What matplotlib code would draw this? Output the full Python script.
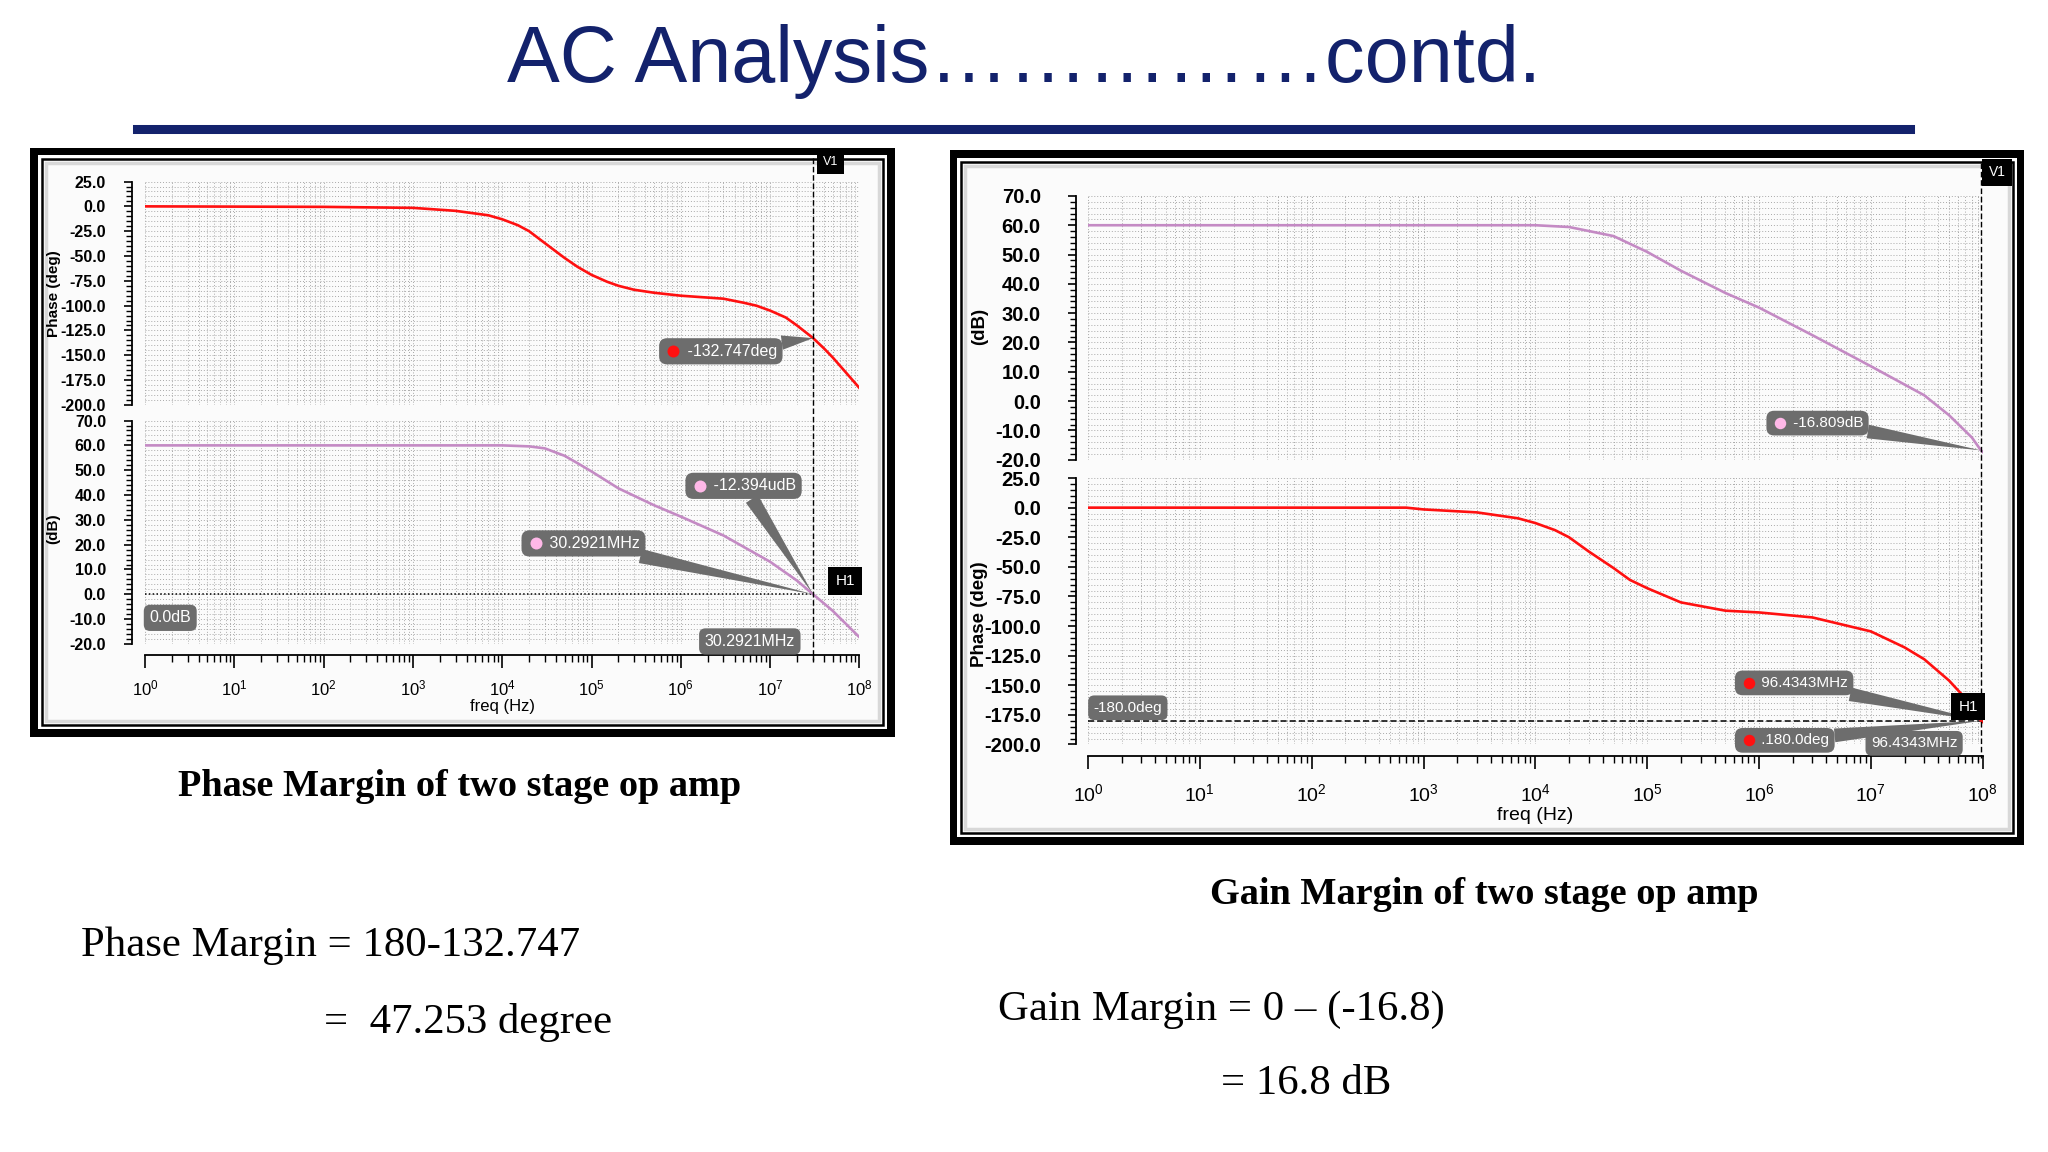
import numpy as np
import matplotlib
matplotlib.use("Agg")
import matplotlib.pyplot as plt
from matplotlib import font_manager, transforms
from matplotlib.lines import Line2D
from matplotlib.patches import Rectangle
from matplotlib.ticker import LogLocator, FixedLocator, AutoMinorLocator, FuncFormatter, NullFormatter

# ---- data ----
# left plot: phase margin (phase on top, gain below)
L_PH_FREQ = [1, 1e2, 1e3, 3e3, 7e3, 1e4, 1.5e4, 2e4, 3e4, 5e4, 7e4, 1e5, 1.5e5, 2e5, 3e5, 5e5,
             1e6, 3e6, 5e6, 7e6, 1e7, 1.5e7, 2e7, 3.03e7, 4e7, 5e7, 7e7, 1e8]
L_PHASE = [0, -0.5, -1.5, -4.5, -9, -13, -19, -25, -37, -52, -61, -69, -76, -80, -84, -87,
           -90, -93, -97, -100, -105, -112, -120, -132.7, -143, -152, -167, -183]
L_DB_FREQ = [1, 1e4, 2e4, 3e4, 5e4, 7e4, 1e5, 2e5, 5e5, 1e6, 3e6, 1e7, 2e7, 3.03e7, 5e7, 1e8]
L_DB = [60, 60, 59.6, 58.8, 55.8, 52.8, 49.5, 42.7, 35.9, 31.3, 23.7, 13.1, 5.5, 0, -6.6, -17.3]

# right plot: gain margin (gain on top, phase below)
R_DB_FREQ = [1, 1e4, 2e4, 5e4, 1e5, 2e5, 5e5, 1e6, 3e6, 1e7, 3e7, 5e7, 8e7, 9.64343e7, 1e8]
R_DB = [60, 60, 59.4, 56.3, 50.9, 44.5, 36.9, 31.9, 22.5, 11.9, 2.0, -4.8, -12.4, -16.8, -17.3]
R_PH_FREQ = [1, 7e2, 1e3, 3e3, 7e3, 1e4, 1.5e4, 2e4, 3e4, 5e4, 7e4, 1e5, 2e5, 5e5, 1e6, 3e6,
             1e7, 2e7, 3e7, 5e7, 7e7, 9.64343e7, 1e8]
R_PHASE = [0, 0, -1.5, -4, -9, -13, -19, -25, -37, -51, -61, -68, -80, -87, -88.5, -92.7,
           -104.5, -118, -128, -146, -161, -180, -181]

PM_FREQ, PM_PHASE = 30.2921e6, -132.747
GM_FREQ, GM_DB = 96.4343e6, -16.809

PHASE_TICKS = [25, 0, -25, -50, -75, -100, -125, -150, -175, -200]
DB_TICKS = [70, 60, 50, 40, 30, 20, 10, 0, -10, -20]

NAVY = "#13226c"
RED = "#ff1010"
PINK = "#c48ac4"
LIGHTPINK = "#ffb8e8"
BOXGRAY = "#6d6d6d"

names = {f.name for f in font_manager.fontManager.ttflist}
SANS = "Liberation Sans"
NARROW = "Liberation Sans Narrow" if "Liberation Sans Narrow" in names else SANS
SERIF = "Liberation Serif"

plt.rcParams["font.family"] = [SANS, "DejaVu Sans"]
plt.rcParams["mathtext.fontset"] = "custom"
plt.rcParams["mathtext.rm"] = SANS
plt.rcParams["mathtext.it"] = SANS
plt.rcParams["mathtext.bf"] = SANS

W, H = 1568, 882  # layout measured on the shrunk reference


def fx(x):
    return x / W


def fy(y):
    return 1 - y / H


fig = plt.figure(figsize=(20.48, 11.52), dpi=100)


def frame(x0, y0, x1, y1):
    fig.add_artist(Rectangle((fx(x0), fy(y1)), (x1 - x0) / W, (y1 - y0) / H,
                             transform=fig.transFigure, fc="black", ec="none", zorder=-10))
    fig.add_artist(Rectangle((fx(x0 + 6), fy(y1 - 6)), (x1 - x0 - 12) / W, (y1 - y0 - 12) / H,
                             transform=fig.transFigure, fc="white", ec="none", zorder=-9))
    fig.add_artist(Rectangle((fx(x0 + 9), fy(y1 - 9)), (x1 - x0 - 18) / W, (y1 - y0 - 18) / H,
                             transform=fig.transFigure, fc="#fbfbfb", ec="black", lw=1.8, zorder=-8))
    fig.add_artist(Rectangle((fx(x0 + 12), fy(y1 - 12)), (x1 - x0 - 24) / W, (y1 - y0 - 24) / H,
                             transform=fig.transFigure, fc="none", ec="#d8d8d8", lw=2.5, zorder=-7))


def make_axes(x0, y0, x1, y1, ylim, yticks, show_x, fs, pad, xfs, xpad):
    ax = fig.add_axes([fx(x0), fy(y1), (x1 - x0) / W, (y1 - y0) / H])
    ax.set_facecolor("none")
    ax.set_xscale("log")
    ax.set_xlim(1, 1e8)
    ax.set_ylim(*ylim)
    for s in ["top", "right"]:
        ax.spines[s].set_visible(False)
    ax.spines["left"].set_position(("outward", 9))
    ax.spines["left"].set_linewidth(1.3)
    ax.yaxis.set_major_locator(FixedLocator(yticks))
    ax.yaxis.set_minor_locator(AutoMinorLocator(5))
    ax.yaxis.set_major_formatter(FuncFormatter(lambda v, p: f"{v:.1f}"))
    ax.tick_params(axis="y", which="major", direction="out", length=6, width=1.2,
                   labelsize=fs, pad=pad)
    ax.tick_params(axis="y", which="minor", direction="out", length=4, width=1.0)
    for lab in ax.get_yticklabels():
        lab.set_fontweight("bold")
    ax.xaxis.set_major_locator(LogLocator(base=10, numticks=20))
    ax.xaxis.set_minor_locator(LogLocator(base=10, subs=np.arange(2, 10), numticks=200))
    ax.xaxis.set_minor_formatter(NullFormatter())
    if show_x:
        ax.spines["bottom"].set_position(("outward", 8))
        ax.spines["bottom"].set_linewidth(1.3)
        ax.xaxis.set_major_formatter(FuncFormatter(lambda v, p: r"$10^{%d}$" % round(np.log10(v))))
        ax.tick_params(axis="x", which="major", direction="out", length=9, width=1.2,
                       labelsize=xfs, pad=xpad)
        ax.tick_params(axis="x", which="minor", direction="out", length=5, width=1.0)
    else:
        ax.spines["bottom"].set_visible(False)
        ax.tick_params(axis="x", which="both", bottom=False, labelbottom=False)
    ax.grid(True, which="both", ls=(0, (1, 2)), color="#a9a9a9", lw=0.7)
    return ax


def marker_label(ax, text, xy, xytext, dot, fs):
    ax.annotate("     " + text, xy=xy, xytext=xytext, textcoords="data", ha="left", va="center",
                color="white", fontsize=fs, annotation_clip=False, zorder=6,
                bbox=dict(boxstyle="round,pad=0.35,rounding_size=0.5", fc=BOXGRAY, ec="none"),
                arrowprops=dict(arrowstyle="wedge,tail_width=0.9", fc=BOXGRAY, ec="none",
                                shrinkA=0, shrinkB=0))
    off = transforms.ScaledTranslation(0.55 * fs / 72, 0, fig.dpi_scale_trans)
    ax.plot([xytext[0]], [xytext[1]], "o", ms=0.75 * fs, color=dot, mec="none",
            transform=ax.transData + off, clip_on=False, zorder=7)


def plain_label(ax, text, xy, fs):
    ax.text(xy[0], xy[1], text, ha="left", va="center", color="white", fontsize=fs, zorder=6,
            clip_on=False,
            bbox=dict(boxstyle="round,pad=0.35,rounding_size=0.4", fc=BOXGRAY, ec="none"))


def black_tag(ax, text, xy, fs, trans=None):
    ax.text(xy[0], xy[1], text, ha="center", va="center", color="white", fontsize=fs, zorder=8,
            clip_on=False, transform=trans if trans is not None else ax.transData,
            bbox=dict(boxstyle="square,pad=0.45", fc="black", ec="none"))


def vmarker(ax, f, ytop, ybot):
    tr = transforms.blended_transform_factory(ax.transData, fig.transFigure)
    fig.add_artist(Line2D([f, f], [fy(ytop), fy(ybot)], transform=tr, color="black",
                          lw=1.0, ls=(0, (4, 2)), zorder=5))


# ---- title ----
fig.text(0.5, fy(47), "AC Analysis\u2026\u2026\u2026\u2026\u2026contd.", ha="center", va="center",
         fontsize=57, color=NAVY, family=[NARROW, "DejaVu Sans"])
fig.add_artist(Line2D([fx(105), fx(1462)], [fy(99), fy(99)], color=NAVY, lw=6.5,
                      transform=fig.transFigure))

# ---- left panel: phase margin ----
frame(23, 113, 685, 564)
axLp = make_axes(111, 139, 658, 310, (-200, 25), PHASE_TICKS, False, 11.5, 13, 12, 8)
axLd = make_axes(111, 322, 658, 493, (-20, 70), DB_TICKS, True, 11.5, 13, 12, 8)
axLp.plot(L_PH_FREQ, L_PHASE, color=RED, lw=1.9, zorder=4)
axLd.plot(L_DB_FREQ, L_DB, color=PINK, lw=1.9, zorder=4)
axLd.plot([1, PM_FREQ], [0, 0], color="black", lw=1.1, ls=(0, (1, 1.5)), zorder=3)
axLd.set_xlabel("freq (Hz)", fontsize=12, labelpad=0)
fig.text(fx(41), fy(225), "Phase (deg)", rotation=90, ha="center", va="center",
         fontsize=11, fontweight="bold")
fig.text(fx(41), fy(405), "(dB)", rotation=90, ha="center", va="center",
         fontsize=11, fontweight="bold")
vmarker(axLp, PM_FREQ, 121, 505)
marker_label(axLp, "-132.747deg", (PM_FREQ, PM_PHASE), (6.6e5, -146), RED, 11.5)
marker_label(axLd, "-12.394udB", (PM_FREQ, 0), (1.3e6, 43.7), LIGHTPINK, 11.5)
marker_label(axLd, "30.2921MHz", (PM_FREQ, 0), (1.9e4, 20.5), LIGHTPINK, 11.5)
plain_label(axLd, "0.0dB", (1.12, -9.5), 11.5)
plain_label(axLd, "30.2921MHz", (1.85e6, -19.0), 11.5)
black_tag(axLd, "H1", (6.9e7, 5.3), 11)
black_tag(axLp, "V1", (fx(636), fy(124)), 9, fig.transFigure)

# ---- right panel: gain margin ----
frame(727, 115, 1550, 647)
axRd = make_axes(833, 150, 1518, 352, (-20, 70), DB_TICKS, False, 14.5, 19, 14, 11)
axRp = make_axes(833, 366, 1518, 570, (-200, 25), PHASE_TICKS, True, 14.5, 19, 14, 11)
axRd.plot(R_DB_FREQ, R_DB, color=PINK, lw=1.9, zorder=4)
axRp.plot(R_PH_FREQ, R_PHASE, color=RED, lw=1.9, zorder=4)
axRp.plot([1, 1e8], [-180, -180], color="black", lw=1.1, ls=(0, (4, 2)), zorder=3)
axRp.set_xlabel("freq (Hz)", fontsize=14, labelpad=1)
fig.text(fx(750), fy(250), "(dB)", rotation=90, ha="center", va="center",
         fontsize=13.5, fontweight="bold")
fig.text(fx(750), fy(470), "Phase (deg)", rotation=90, ha="center", va="center",
         fontsize=13.5, fontweight="bold")
vmarker(axRd, GM_FREQ, 125, 580)
marker_label(axRd, "-16.809dB", (GM_FREQ, GM_DB), (1.3e6, -7.5), LIGHTPINK, 11)
marker_label(axRp, "96.4343MHz", (GM_FREQ, -180), (6.8e5, -148), RED, 11)
marker_label(axRp, ".180.0deg", (GM_FREQ, -180), (6.8e5, -196.5), RED, 11)
plain_label(axRp, "-180.0deg", (1.12, -169), 11)
plain_label(axRp, "96.4343MHz", (1.0e7, -199), 11)
black_tag(axRp, "H1", (7.4e7, -168), 11)
black_tag(axRd, "V1", (fx(1529), fy(132)), 10, fig.transFigure)

# ---- captions ----
fig.text(fx(352), fy(602), "Phase Margin of two stage op amp", ha="center", va="center",
         fontsize=27.5, fontweight="bold", family=SERIF)
fig.text(fx(1136), fy(685), "Gain Margin of two stage op amp", ha="center", va="center",
         fontsize=27.5, fontweight="bold", family=SERIF)
fig.text(fx(62), fy(724), "Phase Margin = 180-132.747", ha="left", va="center",
         fontsize=30.8, family=SERIF)
fig.text(fx(248), fy(783), "=  47.253 degree", ha="left", va="center",
         fontsize=30.8, family=SERIF)
fig.text(fx(764), fy(773), "Gain Margin = 0 \u2013 (-16.8)", ha="left", va="center",
         fontsize=30.8, family=SERIF)
fig.text(fx(935), fy(830), "= 16.8 dB", ha="left", va="center",
         fontsize=30.8, family=SERIF)

fig.savefig("out.png", dpi=100)
